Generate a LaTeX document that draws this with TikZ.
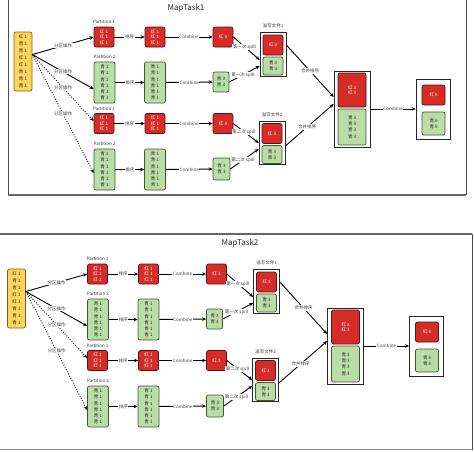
\documentclass[tikz,border=0pt]{standalone}
\usepackage{fontspec}
\setmainfont{Noto Sans CJK SC}
\usetikzlibrary{arrows.meta}
\definecolor{rfill}{RGB}{214,44,40}
\definecolor{rdraw}{RGB}{90,20,20}
\definecolor{gfill}{RGB}{186,220,166}
\definecolor{gdraw}{RGB}{60,90,50}
\definecolor{yfill}{RGB}{255,212,92}
\definecolor{ydraw}{RGB}{130,95,20}
\definecolor{lbl}{RGB}{60,60,60}
\tikzset{
  cell/.style={rounded corners=2pt, line width=0.7pt, align=center, inner sep=0pt},
  redbox/.style={cell, draw=rdraw, fill=rfill, text=white, font=\fontsize{4.5}{5.5}\selectfont},
  greenbox/.style={cell, draw=gdraw, fill=gfill, text=black!85, font=\fontsize{4.5}{6.2}\selectfont},
  yellowbox/.style={cell, draw=ydraw, fill=yfill, text=black!85, font=\fontsize{4.5}{7}\selectfont},
  container/.style={draw=black!85, line width=0.7pt, fill=white, inner sep=0pt},
  arr/.style={-{Stealth[length=4pt,width=3.5pt]}, line width=0.9pt},
  dotarr/.style={arr, dash pattern=on 0.9pt off 1.6pt},
  lab/.style={fill=white, inner sep=0.6pt, text=lbl, font=\fontsize{4.5}{5}\selectfont},
  plabel/.style={inner sep=0pt, text=black!80, font=\fontsize{4.5}{5}\selectfont},
  ttl/.style={inner sep=0pt, text=black!85, font=\fontsize{8}{9}\selectfont},
  frameline/.style={draw=black!70, line width=0.8pt},
}
\newcommand\maptask[3]{%
\begin{scope}[shift={(#2,#3)}]
  \node[yellowbox, minimum width=18, minimum height=59] (in#1) at (23,61.5)
    {红 1\\青 1\\青 1\\红 1\\红 1\\青 1\\青 1\\青 1};
  \coordinate (src#1) at ([yshift=7pt]in#1.east);
  % partitions
  \node[redbox, minimum width=20, minimum height=20] (pa#1) at (104,37) {红 1\\红 1\\红 1};
  \node[greenbox, minimum width=21, minimum height=41] (pb#1) at (104.5,82.5) {青 1\\青 1\\青 1\\青 1\\青 1\\青 1};
  \node[redbox, minimum width=20, minimum height=20] (pc#1) at (104,123.5) {红 1\\红 1\\红 1};
  \node[greenbox, minimum width=21, minimum height=41] (pd#1) at (104.5,169.5) {青 1\\青 1\\青 1\\青 1\\青 1\\青 1};
  \node[plabel, above=2.5pt] (lpa#1) at (pa#1.north) {Partition 1};
  \node[plabel, above=2.5pt] (lpb#1) at (pb#1.north) {Partition 2};
  \node[plabel, above=2.5pt] (lpc#1) at (pc#1.north) {Partition 1};
  \node[plabel, above=2.5pt] (lpd#1) at (pd#1.north) {Partition 2};
  % sorted
  \node[redbox, minimum width=20, minimum height=20] (sa#1) at (155,37) {红 1\\红 1\\红 1};
  \node[greenbox, minimum width=21, minimum height=41] (sb#1) at (155,82.5) {青 1\\青 1\\青 1\\青 1\\青 1\\青 1};
  \node[redbox, minimum width=20, minimum height=20] (sc#1) at (155,123.5) {红 1\\红 1\\红 1};
  \node[greenbox, minimum width=21, minimum height=41] (sd#1) at (155,169.5) {青 1\\青 1\\青 1\\青 1\\青 1\\青 1};
  % combined
  \node[redbox, minimum width=20, minimum height=20] (ca#1) at (223,37) {红 3};
  \node[greenbox, minimum width=16, minimum height=20] (cb#1) at (221,82) {青 3\\青 3};
  \node[redbox, minimum width=20, minimum height=20] (cc#1) at (223,123.5) {红 3};
  \node[greenbox, minimum width=17, minimum height=22] (cd#1) at (221.5,169) {青 3\\青 3};
  % spill files
  \node[container, minimum width=26, minimum height=44] (f1#1) at (273,54) {};
  \node[redbox, minimum width=20, minimum height=20] (f1r#1) at (273,45) {红 3};
  \node[greenbox, minimum width=20, minimum height=18] (f1g#1) at (273,66) {青 3\\青 3};
  \node[plabel, above=4pt] (lf1#1) at (f1#1.north) {溢写文件1};
  \node[container, minimum width=26, minimum height=43] (f2#1) at (272,142.5) {};
  \node[redbox, minimum width=20, minimum height=20] (f2r#1) at (272,133.5) {红 3};
  \node[greenbox, minimum width=20, minimum height=18] (f2g#1) at (272,154.5) {青 3\\青 3};
  \node[plabel, above=4pt] (lf2#1) at (f2#1.north) {溢写文件2};
  % merged
  \node[container, minimum width=36, minimum height=76] (m#1) at (352,109) {};
  \node[redbox, minimum width=28, minimum height=34] (mr#1) at (352,90) {红 3\\红 3};
  \node[greenbox, minimum width=28, minimum height=36] (mg#1) at (352,127) {青 3\\青 3\\青 3\\青 3};
  % final
  \node[container, minimum width=34, minimum height=60] (fin#1) at (433,109) {};
  \node[redbox, minimum width=23, minimum height=20] (finr#1) at (433.5,95) {红 6};
  \node[greenbox, minimum width=23, minimum height=23] (fing#1) at (433.5,123.5) {青 6\\青 6};
  % partition arrows
  \draw[arr] (src#1) -- node[lab]{分区操作} (pa#1.west);
  \draw[arr] (src#1) -- node[lab]{分区操作} ([yshift=-6.5pt]pb#1.west);
  \draw[dotarr] (src#1) -- node[lab]{分区操作} ([yshift=2.5pt]pc#1.west);
  \draw[dotarr] (src#1) -- node[lab]{分区操作} ([yshift=-3.5pt]pd#1.west);
  % sort arrows
  \draw[arr] (pa#1) -- node[lab]{排序} (sa#1);
  \draw[arr] (pb#1) -- node[lab]{排序} (sb#1);
  \draw[arr] (pc#1) -- node[lab]{排序} (sc#1);
  \draw[arr] (pd#1) -- node[lab]{排序} (sd#1);
  % combine arrows
  \draw[arr] (sa#1) -- node[lab]{Combine} (ca#1);
  \draw[arr] (sb#1) -- node[lab]{Combine} (cb#1);
  \draw[arr] (sc#1) -- node[lab]{Combine} (cc#1);
  \draw[arr] (sd#1) -- node[lab]{Combine} (cd#1);
  % spill arrows
  \draw[arr] (ca#1.east) -- node[lab, pos=0.42]{第一次 spill} ([yshift=-6pt]f1#1.west);
  \draw[arr] (cb#1.east) -- node[lab, pos=0.45]{第一次 spill} ([yshift=-12pt]f1#1.west);
  \draw[arr] (cc#1.east) -- node[lab, pos=0.42]{第二次 spill} ([yshift=-0.5pt]f2#1.west);
  \draw[arr] (cd#1.east) -- node[lab, pos=0.45]{第二次 spill} ([yshift=-6.5pt]f2#1.west);
  % merge arrows
  \draw[arr] ([yshift=9pt]f1#1.east) -- node[lab]{合并排序} ([yshift=12pt]m#1.west);
  \draw[arr] ([yshift=-3.5pt]f2#1.east) -- node[lab, pos=0.45]{合并排序} ([yshift=5pt]m#1.west);
  % final combine
  \draw[arr] (m#1) -- node[lab]{Combine} (fin#1);
\end{scope}}
\begin{document}
\begin{tikzpicture}[x=1pt, y=-1pt]
  \useasboundingbox (0,0) rectangle (474,451);
  \fill[white] (0,0) rectangle (474,451);
  % panel 1 frame
  \coordinate (p1tl) at (8,0);
  \coordinate (p1bl) at (8,195);
  \coordinate (p1br) at (466,195);
  \coordinate (p1tr) at (466,0);
  \draw[frameline] (p1tl) -- (p1bl);
  \draw[frameline] (p1tr) -- (p1br);
  \draw[draw=black!60, line width=1.6pt] (p1bl) -- (p1br);
  % panel 2 frame
  \coordinate (p2tl) at (0,234);
  \coordinate (p2tr) at (472,234);
  \coordinate (p2br) at (472,449.5);
  \coordinate (p2bl) at (0,449.5);
  \draw[draw=black!60, line width=1.8pt] (p2tl) -- (p2tr);
  \draw[frameline] (p2tr) -- (p2br);
  \draw[draw=black!45, line width=1.2pt] (p2bl) -- (p2br);
  % titles
  \node[ttl] (title1) at (186,8) {MapTask1};
  \node[ttl] (title2) at (240,243) {MapTask2};
  \maptask{1}{0}{0}
  \maptask{2}{-6.5}{237}
\end{tikzpicture}
\end{document}
